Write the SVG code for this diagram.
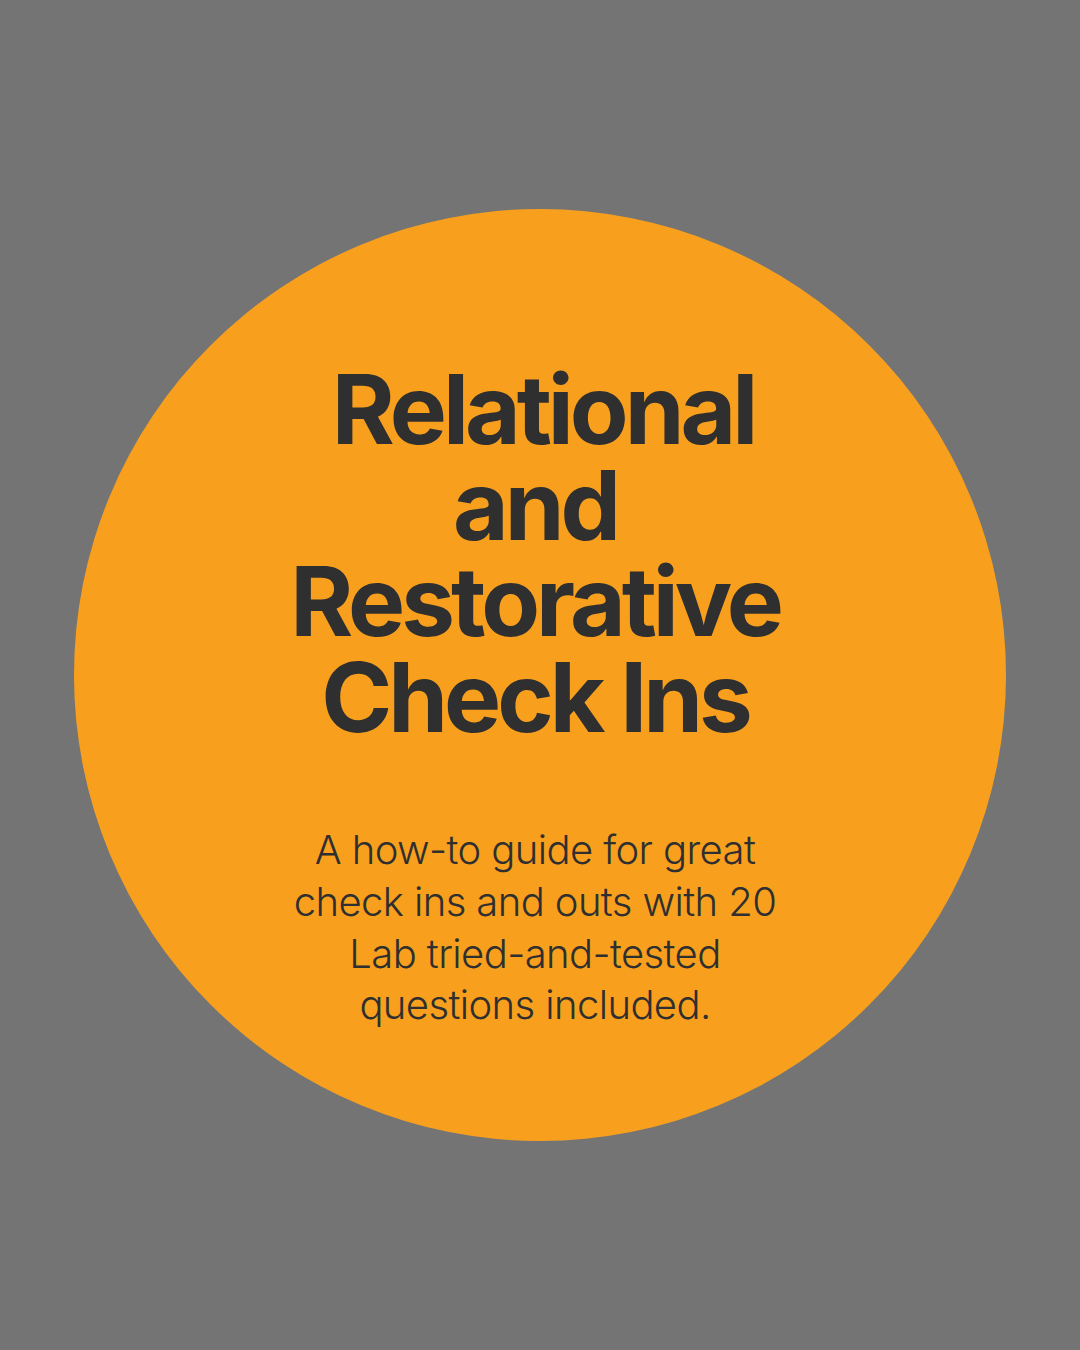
<svg xmlns="http://www.w3.org/2000/svg" width="1080" height="1350" viewBox="0 0 1080 1350">
<style>
.t{font-family:Inter,"Liberation Sans",sans-serif;font-weight:700;font-size:96px;fill:#2f2f2f;text-anchor:middle;letter-spacing:-4px}
.s{font-family:Inter,"Liberation Sans",sans-serif;font-weight:300;font-size:40px;fill:#2f2f2f;text-anchor:middle;letter-spacing:-0.6px}
</style>
<rect width="1080" height="1350" fill="#747474"/>
<g id="circle"><circle cx="540" cy="675" r="466" fill="#F8A01E"/></g>
<g id="title">
<text class="t" x="543" y="444">Relational</text>
<text class="t" x="535" y="540">and</text>
<text class="t" x="535" y="636">Restorative</text>
<text class="t" x="535" y="732">Check Ins</text>
</g>
<g id="subtitle">
<text class="s" x="535" y="864">A how-to guide for great</text>
<text class="s" x="535" y="916">check ins and outs with 20</text>
<text class="s" x="535" y="968">Lab tried-and-tested</text>
<text class="s" x="535" y="1019">questions included.</text>
</g>
</svg>
